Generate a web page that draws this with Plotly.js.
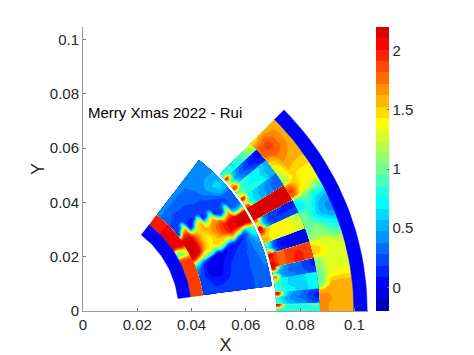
<!DOCTYPE html>
<html><head><meta charset="utf-8">
<script src="https://cdn.plot.ly/plotly-3.0.1.min.js"></script>
<style>html,body{margin:0;padding:0;background:#fff}#c{width:474px;height:355px}</style>
</head><body><div id="c"></div>
<script>
var xTicks=[0,0.02,0.04,0.06,0.08,0.1];
var yTicks=[0,0.02,0.04,0.06,0.08,0.1];
var barTicks=[0,0.5,1,1.5,2];
var note="Merry Xmas 2022 - Rui";
var toothR=[.0712,.0735,.0755,.078,.081,.084,.0875];
var yokeR=[.0873,.0905,.0935,.0965,.0998];
var statorTheta=[0,.67,1.33,2,3.17,4.33,5.5,6.83,8.17,9.5,10.67,11.83,13,14.33,15.67,17,18.17,19.33,20.5,21.83,23.17,24.5,25.67,26.83,28,29.33,30.67,32,33.17,34.33,35.5,36.83,38.17,39.5,40.67,41.83,43,43.67,44.33,45];
var toothB=[
[.85,.8,.8,.8,.8,.8],[1.3,.85,.8,.8,.8,.85],[2.05,.95,.8,.8,.85,.9],
[.9,.6,.5,.45,.38,.22],[.7,.55,.45,.38,.28,.15],[2.05,.8,.5,.42,.33,.2],
[.95,.8,.7,.65,.65,.7],[.85,.7,.65,.65,.65,.7],[1.1,.75,.65,.65,.65,.75],
[1.7,.55,.42,.38,.33,.22],[.7,.45,.38,.33,.28,.18],[2.05,.6,.4,.33,.28,.18],
[2.1,1.8,1.8,1.9,1.95,1.85],[1.95,1.8,1.8,1.9,1.95,1.85],[2.05,1.8,1.8,1.9,1.9,1.85],
[1.7,.35,.12,.08,.08,.08],[.7,.25,.08,.06,.06,.06],[.9,.35,.12,.08,.06,.06],
[1.6,1.4,1.4,1.4,1.35,1.3],[1.5,1.42,1.4,1.38,1.35,1.25],[1.95,1.45,1.4,1.38,1.33,1.2],
[2.15,.6,.3,.22,.22,.22],[1.1,.42,.22,.18,.18,.18],[1.8,.5,.28,.22,.18,.18],
[2.2,2.15,2.15,2.15,2.15,2.1],[2.15,2.15,2.15,2.15,2.15,2.15],[2.15,2.15,2.15,2.15,2.15,2.1],
[1.9,.75,.6,.5,.4,.3],[1.1,.7,.6,.5,.4,.3],[2,.75,.65,.55,.45,.35],
[1.4,.85,.8,.8,.7,.5],[.95,.85,.75,.72,.65,.5],[1.9,.9,.8,.75,.7,.55],
[1.6,.65,.42,.33,.25,.12],[1,.5,.36,.25,.15,.08],[1.9,.65,.42,.3,.15,.08],
[1.3,.8,.75,.8,.9,1.1],[.9,.8,.75,.8,.95,1.2],[.85,.8,.75,.85,1,1.3]
];
var yokeB=[
[1.65,1.6,1.6,1.6],[1.65,1.6,1.6,1.6],[1.65,1.6,1.6,1.6],
[1.65,1.62,1.6,1.6],[1.65,1.62,1.6,1.6],[1.6,1.6,1.6,1.6],
[1.1,1.6,1.6,1.6],[1,1.45,1.5,1.5],[1,1.3,1.35,1.35],
[1.05,1.3,1.32,1.32],[1.05,1.3,1.3,1.3],[1.1,1.3,1.3,1.3],
[1.45,1.35,1.3,1.3],[1.5,1.35,1.3,1.25],[1.4,1.3,1.25,1.15],
[1.1,1.15,1.05,.95],[1.05,1.1,.95,.8],[1,1.05,.85,.7],
[1,.85,.7,.55],[1,.75,.55,.45],[1,.8,.55,.45],
[.7,.85,.6,.5],[.7,.9,.7,.6],[.8,1,.85,.8],
[1.75,1.3,1.2,1.05],[1.85,1.45,1.35,1.3],[1.7,1.45,1.4,1.35],
[1.15,1.45,1.4,1.4],[1.2,1.5,1.45,1.45],[1.25,1.55,1.5,1.5],
[1.3,1.6,1.6,1.55],[1.45,1.65,1.62,1.58],[1.55,1.72,1.68,1.58],
[1.75,1.8,1.72,1.6],[1.8,1.85,1.72,1.6],[1.8,1.85,1.72,1.6],
[1.7,1.75,1.68,1.6],[1.6,1.7,1.62,1.58],[1.45,1.6,1.58,1.55]
];
var outerRingR=[.0998,.1047];
var outerRingTheta=[0,45];
var outerRingB=[[.04]];
var innerRingR=[.0353,.04];
var innerRingTheta=[7.5,52.5];
var innerRingB=[[.04]];
var rotorR=[.04,.0422,.0445,.046,.0475,.049,.0505,.052,.0535,.055,.0565,.058,.0595,.061,.0625,.064,.0655,.067,.0685,.0702];
var rotorTheta=[7.5,10,12.5,15,17,19,20.5,22,23,24,25,26,27,28,29,30,31,32,33,34,35,36,37,38,39,40,41,42,43,44.5,46.5,49,52.5];
var rotorB=[
[1.85,1.85,.22,.22,.2,.2,.2,.2,.2,.22,.22,.22,.24,.25,.27,.29,.3,.32,.34],
[1.85,1.85,.22,.22,.2,.18,.18,.18,.2,.2,.22,.22,.24,.25,.27,.29,.32,.34,.37],
[1.85,1.85,.22,.2,.18,.14,.1,.1,.14,.18,.2,.22,.24,.25,.27,.3,.32,.34,.37],
[1.85,1.85,.25,.18,.1,.03,.03,.06,.1,.15,.2,.22,.22,.25,.27,.3,.34,.37,.4],
[1.85,1.85,.32,.22,.08,.02,.02,.03,.08,.12,.18,.2,.22,.22,.25,.3,.34,.37,.42],
[1.85,1.85,.42,.25,.1,.03,.02,.02,.06,.1,.14,.18,.2,.22,.25,.3,.34,.4,.42],
[1.85,1.85,.62,.42,.14,.06,.03,.02,.03,.08,.1,.15,.18,.2,.22,.27,.34,.42,.47],
[1.85,1.85,1.05,.75,.45,.3,.06,.03,.03,.06,.08,.12,.15,.18,.2,.25,.34,.44,.52],
[1.85,1.85,1.5,1.2,1.05,.95,.75,.45,.1,.35,.1,.1,.12,.14,.18,.22,.34,.47,.6],
[1.85,1.85,1.9,1.7,1.3,1.15,1.05,.95,.7,.95,.7,.25,.2,.25,.14,.18,.32,.55,.75],
[1.85,1.85,2.1,2,1.7,1.35,1.3,1.25,1.15,1.3,1.15,.9,.8,1,.4,.2,.28,.62,.85],
[1.85,1.8,2.15,2.15,2,1.6,1.45,1.4,1.4,1.5,1.45,1.4,1.35,1.55,1.3,1.05,.5,.7,1],
[1.75,1.6,2.15,2.15,2.1,1.7,1.5,1.4,1.45,1.5,1.5,1.5,1.55,1.8,1.7,1.6,1.4,1.4,1.7],
[1.4,1.3,2.15,2.15,2.1,1.75,1.5,1.42,1.42,1.5,1.6,1.7,1.85,2,2.05,2.05,2.1,2.15,2.2],
[1,1.25,2.15,2.15,2.1,1.8,1.55,1.42,1.42,1.52,1.65,1.8,1.9,2,2.05,2.1,2.15,2.2,2.2],
[.95,1.35,2.15,2.15,2.1,1.8,1.55,1.42,1.42,1.55,1.65,1.8,1.9,2,2.05,2.1,2.15,2.2,2.2],
[1.1,1.5,2.15,2.15,2.1,1.8,1.55,1.42,1.48,1.6,1.7,1.8,1.9,2,2.05,2.1,2.1,2.15,2.2],
[1.4,1.85,2.15,2.15,2.1,1.8,1.55,1.48,1.52,1.6,1.7,1.75,1.85,1.7,1.8,1.95,1.5,1.3,1.5],
[1.8,2.05,2.15,2.1,2.05,1.75,1.55,1.5,1.55,1.55,1.65,1.7,1.7,1.3,1.5,1.7,.7,.55,.65],
[2.1,2.1,2.1,2.1,2,1.65,1.5,1.5,1.55,1.3,1.55,1.65,1.2,.5,.8,1.6,.3,.33,.38],
[2.1,2.1,2,2,1.9,1.25,1.45,1.5,1.55,1.2,1.3,1.5,.6,.18,.3,1.2,.27,.3,.34],
[2.1,2.1,1.7,1.95,1.85,.6,.9,1.5,1.55,.6,.8,1.3,.15,.2,.22,.8,.27,.3,.33],
[2.1,2.1,.7,1.75,1.75,.2,.3,1.25,1.4,.15,.3,.9,.2,.22,.22,.4,.27,.3,.33],
[2.1,2.1,.2,1.4,1.6,.12,.12,.7,1.2,.16,.2,.45,.22,.22,.25,.25,.27,.3,.33],
[2.1,2.1,.2,.7,1.4,.12,.15,.15,.65,.2,.22,.22,.22,.25,.25,.27,.3,.33,.36],
[2.1,2.1,.2,.2,1,.18,.18,.18,.2,.22,.22,.22,.25,.25,.28,.35,.45,.5,.46],
[2.1,2.1,.2,.2,.7,.2,.2,.2,.22,.22,.22,.25,.25,.28,.33,.42,.52,.58,.52],
[2.1,2.1,.22,.2,.22,.2,.22,.22,.22,.25,.25,.25,.28,.32,.38,.47,.55,.6,.58],
[2.1,2.1,.25,.22,.22,.22,.22,.25,.25,.25,.28,.28,.32,.38,.45,.52,.58,.6,.56],
[2,2,.3,.27,.25,.25,.27,.27,.27,.3,.3,.33,.36,.4,.46,.5,.52,.52,.5],
[2,2,.36,.33,.3,.3,.3,.3,.33,.33,.36,.36,.38,.4,.42,.45,.46,.46,.46],
[2,2,.38,.38,.38,.38,.38,.38,.38,.38,.38,.38,.4,.4,.4,.42,.42,.42,.42]
];
var barMin=-0.2, barMax=2.2, bandCount=25;

var u=[];(function(){var n=7,i;for(i=1;i<=n;i++)u.push(i/n);for(i=1;i<n;i++)u.push(1);for(i=n;i>=1;i--)u.push(i/n);})();
function band(k){
  var r=k>=11?u[k-11]:0, g=(k>=4&&k<=23)?u[k-4]:0, b=k<=16?u[k+3]:0;
  return 'rgb('+Math.round(r*255)+','+Math.round(g*255)+','+Math.round(b*255)+')';
}
var barSize=(barMax-barMin)/bandCount;
var barScale=[];
for(var k=1;k<=bandCount;k++){barScale.push([(k-1)/bandCount,band(k)]);barScale.push([k/bandCount,band(k)]);}
var fillScale=[[0,band(1)]];
for(k=1;k<=bandCount;k++)fillScale.push([k/(bandCount+1),band(k)]);
fillScale.push([1,band(bandCount)]);

function nodes(br,hard){
  var pos=[],idx=[],eps=1e-3*(br[br.length-1]-br[0]);
  for(var i=0;i<br.length-1;i++){
    if(hard(i)){pos.push(br[i]+eps*(i?1:0));idx.push(i);}
    pos.push((br[i]+br[i+1])/2);idx.push(i);
    if(hard(i+1)){pos.push(br[i+1]-eps*(i+1<br.length-1?1:0));idx.push(i);}
  }
  return {pos:pos,idx:idx};
}
var traces=[];
var carpetCount=0;
function addField(rs,ths,tab,hardR,hardT){
  var id='c'+(carpetCount++);
  var nr=nodes(rs,hardR),nt=nodes(ths,hardT);
  var xs=[],ys=[],zs=[];
  nr.pos.forEach(function(r,ir){
    var xr=[],yr=[],zr=[];
    nt.pos.forEach(function(t,it){
      var a=t*Math.PI/180;
      xr.push(r*Math.cos(a));yr.push(r*Math.sin(a));zr.push(tab[nt.idx[it]][nr.idx[ir]]);
    });
    xs.push(xr);ys.push(yr);zs.push(zr);
  });
  var axis={showgrid:false,showline:false,showticklabels:'none',startline:false,endline:false,minorgridcount:0,smoothing:0,showticksuffix:'none',showtickprefix:'none',gridcolor:'rgba(0,0,0,0)',linecolor:'rgba(0,0,0,0)'};
  traces.push({type:'carpet',carpet:id,a:nt.pos,b:nr.pos,x:xs,y:ys,aaxis:axis,baxis:axis,hoverinfo:'skip'});
  traces.push({type:'contourcarpet',carpet:id,a:nt.pos,b:nr.pos,z:zs,autocontour:false,
    contours:{start:barMin,end:barMax+0.01,size:barSize,coloring:'fill',showlines:false},
    line:{width:0},colorscale:fillScale,zmin:barMin,zmax:barMax,showscale:false,hoverinfo:'skip'});
}
function edgeOnly(n){return function(i){return i===0||i===n;};}
var slotEdges=function(i){return i%3===0;};
addField(toothR,statorTheta,toothB,edgeOnly(6),slotEdges);
addField(yokeR,statorTheta,yokeB,edgeOnly(4),edgeOnly(39));
addField(rotorR,rotorTheta,rotorB,function(i){return i===0||i===2||i===19;},edgeOnly(32));

function ringTrace(rs,ths,v){
  var kk=Math.floor((v-barMin)/barSize)+1,x=[],y=[],s,n=24,a;
  for(s=0;s<=n;s++){a=(ths[0]+(ths[1]-ths[0])*s/n)*Math.PI/180;x.push(rs[0]*Math.cos(a));y.push(rs[0]*Math.sin(a));}
  for(s=n;s>=0;s--){a=(ths[0]+(ths[1]-ths[0])*s/n)*Math.PI/180;x.push(rs[1]*Math.cos(a));y.push(rs[1]*Math.sin(a));}
  x.push(x[0]);y.push(y[0]);
  traces.push({type:'scatter',mode:'lines',x:x,y:y,fill:'toself',fillcolor:band(kk),line:{color:band(kk),width:0.5},hoverinfo:'skip',showlegend:false});
}
ringTrace(outerRingR,outerRingTheta,outerRingB[0][0]);
ringTrace(innerRingR,innerRingTheta,innerRingB[0][0]);

traces.push({type:'heatmap',x:[-1,-0.9],y:[-1,-0.9],z:[[barMin,barMax],[barMin,barMax]],zmin:barMin,zmax:barMax,
  colorscale:barScale,hoverinfo:'skip',
  colorbar:{thickness:13,thicknessmode:'pixels',len:1,lenmode:'fraction',x:1.028,xanchor:'left',y:0.5,yanchor:'middle',
    xpad:0,ypad:0,outlinewidth:0,tickvals:barTicks,ticktext:barTicks.map(String),ticks:'inside',ticklen:2,tickcolor:'#666',
    tickfont:{family:'Liberation Sans, Arial, sans-serif',size:15,color:'#262626'}}});
var axisBase={showgrid:false,zeroline:false,showline:true,linecolor:'#9a9a9a',linewidth:1,ticks:'inside',ticklen:3,tickcolor:'#777',
  tickfont:{family:'Liberation Sans, Arial, sans-serif',size:15,color:'#262626'},mirror:false};
var layout={width:474,height:355,paper_bgcolor:'#fff',plot_bgcolor:'#fff',showlegend:false,
  margin:{l:83,r:106,t:27,b:44},
  xaxis:Object.assign({},axisBase,{range:[0,0.105],autorange:false,tickvals:xTicks,ticktext:xTicks.map(String),
    title:{text:'X',font:{family:'Liberation Sans, Arial, sans-serif',size:18,color:'#262626'},standoff:6}}),
  yaxis:Object.assign({},axisBase,{range:[0,0.1046],autorange:false,tickvals:yTicks,ticktext:yTicks.map(String),
    title:{text:'Y',font:{family:'Liberation Sans, Arial, sans-serif',size:18,color:'#262626'},standoff:0}}),
  annotations:[{text:note,x:0.001,y:0.073,xref:'x',yref:'y',xanchor:'left',yanchor:'middle',showarrow:false,
    font:{family:'Liberation Sans, Arial, sans-serif',size:15,color:'#000'}}]
};
Plotly.newPlot('c',traces,layout,{displayModeBar:false,staticPlot:true});
</script></body></html>
